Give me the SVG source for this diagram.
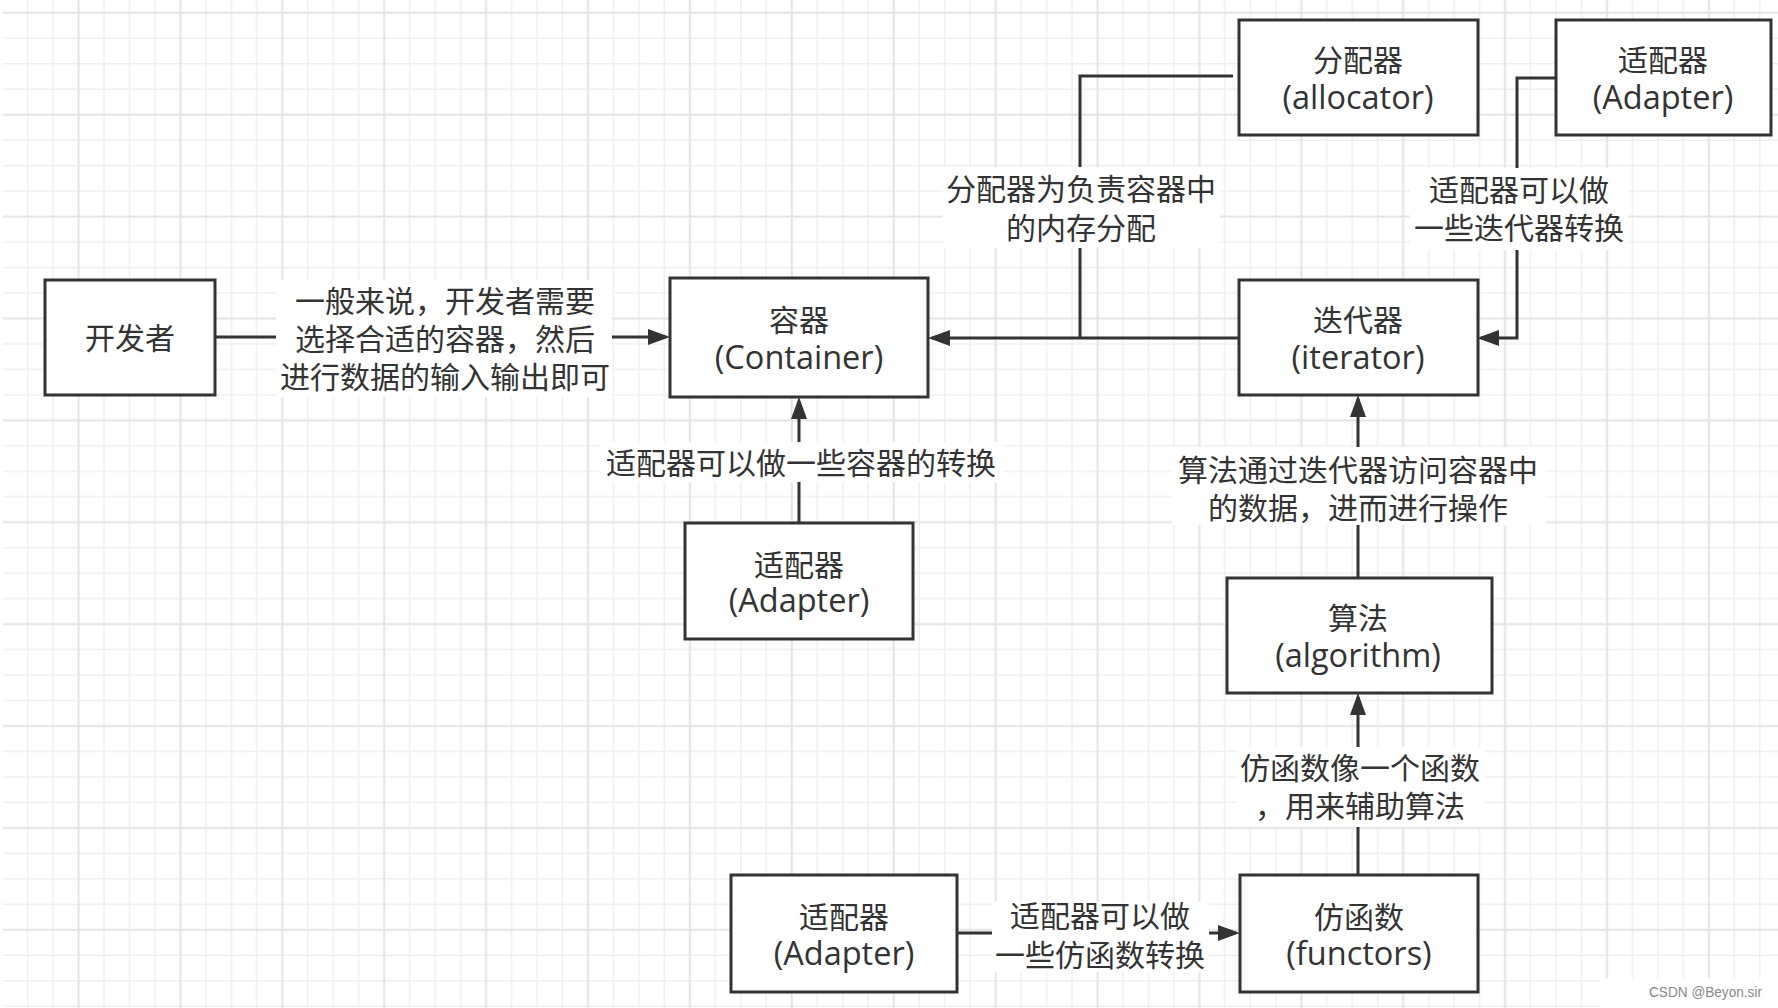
<svg xmlns="http://www.w3.org/2000/svg" width="1778" height="1008" viewBox="0 0 1778 1008">
<defs>
<pattern id="grid" patternUnits="userSpaceOnUse" x="65.76" y="0" width="101.9" height="101.9">
<path d="M38.21 0V101.9M63.69 0V101.9M89.16 0V101.9M0 38.21H101.9M0 63.69H101.9M0 89.16H101.9" stroke="#efefef" stroke-width="1.5" fill="none"/>
<path d="M12.74 0V101.9M0 12.74H101.9" stroke="#e3e3e3" stroke-width="2" fill="none"/>
</pattern>
<marker id="arr" markerUnits="userSpaceOnUse" markerWidth="24" markerHeight="18" refX="18" refY="8" orient="auto" viewBox="0 0 24 18">
<path d="M0 0L22 8L0 16Z" fill="#333"/>
</marker>
<style>
.box{fill:#fff;stroke:#333;stroke-width:3}
.t{font-family:"Open Sans","Noto Sans CJK SC",sans-serif;font-size:30px;fill:#333;text-anchor:middle}
.lat{font-size:32.5px}
.ln{fill:none;stroke:#333;stroke-width:3}
.bg{fill:#fff}
</style>
</defs>
<rect width="1778" height="1008" fill="#fff"/>
<rect x="3" y="0" width="1775" height="1008" fill="url(#grid)"/>

<g id="connectors">
<path class="ln" d="M215 337H666" marker-end="url(#arr)"/>
<path class="ln" d="M1233 76H1080V338"/>
<path class="ln" d="M1239 338H932" marker-end="url(#arr)"/>
<path class="ln" d="M1556 78H1517V338H1481" marker-end="url(#arr)"/>
<path class="ln" d="M799 523V401" marker-end="url(#arr)"/>
<path class="ln" d="M1358 578V399" marker-end="url(#arr)"/>
<path class="ln" d="M1358 875V697" marker-end="url(#arr)"/>
<path class="ln" d="M956 933H1236" marker-end="url(#arr)"/>
<g id="labels">
<rect class="bg" x="276" y="280" width="336" height="117"/>
<text class="t" x="445" y="312">一般来说，开发者需要<tspan x="445" dy="38">选择合适的容器，然后</tspan><tspan x="445" dy="38">进行数据的输入输出即可</tspan></text>
<rect class="bg" x="943" y="167" width="277" height="81"/>
<text class="t" x="1081" y="200">分配器为负责容器中<tspan x="1081" dy="39">的内存分配</tspan></text>
<rect class="bg" x="1410" y="168" width="218" height="82"/>
<text class="t" x="1519" y="201">适配器可以做<tspan x="1519" dy="38">一些迭代器转换</tspan></text>
<rect class="bg" x="600" y="442" width="403" height="40"/>
<text class="t" x="801" y="474">适配器可以做一些容器的转换</text>
<rect class="bg" x="1172" y="447" width="374" height="78"/>
<text class="t" x="1358" y="481">算法通过迭代器访问容器中<tspan x="1358" dy="38">的数据，进而进行操作</tspan></text>
<rect class="bg" x="1237" y="747" width="248" height="80"/>
<text class="t" x="1360" y="779">仿函数像一个函数<tspan x="1360" dy="38">，用来辅助算法</tspan></text>
<rect class="bg" x="992" y="902" width="217" height="70"/>
<text class="t" x="1100" y="927">适配器可以做<tspan x="1100" dy="39">一些仿函数转换</tspan></text>
</g>
</g>

<g id="developer">
<rect class="box" x="45" y="280" width="170" height="115"/>
<text class="t" x="130" y="349">开发者</text>
</g>
<g id="container">
<rect class="box" x="670" y="278" width="258" height="119"/>
<text class="t" x="799" y="331">容器<tspan class="lat" x="799" dy="38">(Container)</tspan></text>
</g>
<g id="allocator">
<rect class="box" x="1239" y="20" width="239" height="115"/>
<text class="t" x="1358" y="71">分配器<tspan class="lat" x="1358" dy="38">(allocator)</tspan></text>
</g>
<g id="adapter-iterator">
<rect class="box" x="1556" y="20" width="215" height="115"/>
<text class="t" x="1663" y="71">适配器<tspan class="lat" x="1663" dy="38">(Adapter)</tspan></text>
</g>
<g id="iterator">
<rect class="box" x="1239" y="280" width="239" height="115"/>
<text class="t" x="1358" y="331">迭代器<tspan class="lat" x="1358" dy="38">(iterator)</tspan></text>
</g>
<g id="adapter-container">
<rect class="box" x="685" y="523" width="228" height="116"/>
<text class="t" x="799" y="576">适配器<tspan class="lat" x="799" dy="36">(Adapter)</tspan></text>
</g>
<g id="algorithm">
<rect class="box" x="1227" y="578" width="265" height="115"/>
<text class="t" x="1358" y="629">算法<tspan class="lat" x="1358" dy="38">(algorithm)</tspan></text>
</g>
<g id="functors">
<rect class="box" x="1240" y="875" width="238" height="117"/>
<text class="t" x="1359" y="928">仿函数<tspan class="lat" x="1359" dy="37">(functors)</tspan></text>
</g>
<g id="adapter-functors">
<rect class="box" x="731" y="875" width="226" height="117"/>
<text class="t" x="844" y="928">适配器<tspan class="lat" x="844" dy="37">(Adapter)</tspan></text>
</g>
<rect class="bg" x="1600" y="978" width="178" height="30"/>
<text x="1649" y="997" font-family="Liberation Sans, sans-serif" font-size="14" fill="#888" textLength="113" lengthAdjust="spacingAndGlyphs">CSDN @Beyon.sir</text>
</svg>
